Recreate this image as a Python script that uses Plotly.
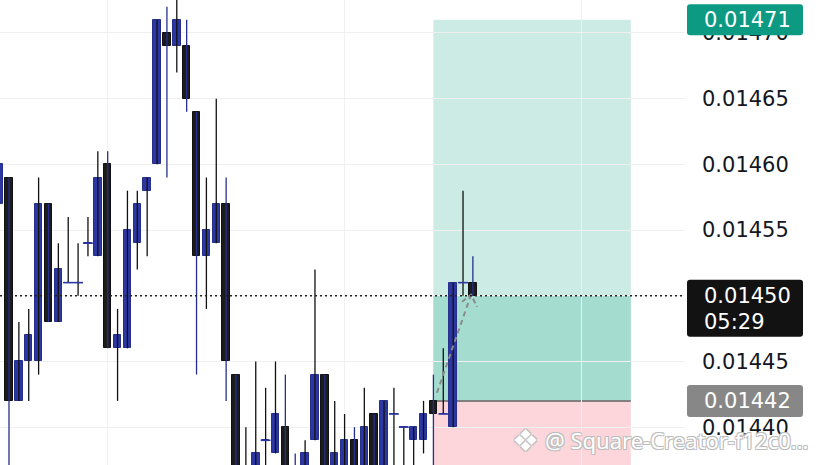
import plotly.graph_objects as go
import numpy as np

# candle index (x) and OHLC values
idx = list(range(-1, 48))
opens = [0.01457, 0.01459, 0.01442, 0.01445, 0.01445, 0.01457, 0.01448, 0.01451, 0.01451, 0.01454,
         0.01453, 0.01460, 0.01446, 0.01446, 0.01454, 0.01458, 0.01460, 0.01470, 0.01469, 0.01469,
         0.01464, 0.01453, 0.01454, 0.01457, 0.01444, 0.01434, 0.01436, 0.01439, 0.01438, 0.01440,
         0.01436, 0.01436, 0.01439, 0.01444, 0.01436, 0.01436, 0.01439, 0.01436, 0.01441, 0.01436,
         0.01441, 0.01440, 0.01439, 0.01439, 0.01442, 0.01441, 0.01440, 0.01451, 0.01451]
highs = [0.01460, 0.01459, 0.01448, 0.01449, 0.01459, 0.01457, 0.01454, 0.01456, 0.01454, 0.01456,
         0.01461, 0.01461, 0.01449, 0.01458, 0.01458, 0.01459, 0.01471, 0.01472, 0.01474, 0.01471,
         0.01464, 0.01459, 0.01465, 0.01459, 0.01444, 0.01440, 0.01445, 0.01443, 0.01445, 0.01444,
         0.01438, 0.01439, 0.01452, 0.01444, 0.01442, 0.01441, 0.01440, 0.01443, 0.01441, 0.01442,
         0.01443, 0.01440, 0.01440, 0.01442, 0.01444, 0.01446, 0.01451, 0.01458, 0.01453]
lows = [0.01457, 0.01437, 0.01442, 0.01442, 0.01444, 0.01448, 0.01448, 0.01451, 0.01450, 0.01453,
        0.01453, 0.01446, 0.01442, 0.01446, 0.01452, 0.01453, 0.01460, 0.01459, 0.01467, 0.01464,
        0.01444, 0.01449, 0.01454, 0.01442, 0.01435, 0.01433, 0.01435, 0.01436, 0.01438, 0.01435,
        0.01434, 0.01435, 0.01439, 0.01435, 0.01435, 0.01435, 0.01435, 0.01435, 0.01435, 0.01435,
        0.01435, 0.01435, 0.01435, 0.01438, 0.01436, 0.01441, 0.01440, 0.01450, 0.01450]
closes = [0.01460, 0.01442, 0.01445, 0.01447, 0.01457, 0.01448, 0.01452, 0.01451, 0.01451, 0.01454,
          0.01459, 0.01446, 0.01447, 0.01455, 0.01457, 0.01459, 0.01471, 0.01469, 0.01471, 0.01465,
          0.01453, 0.01455, 0.01457, 0.01445, 0.01436, 0.01436, 0.01438, 0.01439, 0.01441, 0.01436,
          0.01435, 0.01438, 0.01444, 0.01436, 0.01438, 0.01439, 0.01436, 0.01440, 0.01436, 0.01442,
          0.01441, 0.01440, 0.01440, 0.01441, 0.01441, 0.01441, 0.01451, 0.01451, 0.01450]

# long position tool
pos_start, pos_end = 43, 63
entry_price = 0.01442
target_price = 0.01471
stop_price = 0.01430
last_price = 0.01450
countdown = "05:29"

# trend arrow drawn on the chart
arrow_x = [43.36, 46.81]
arrow_y = [0.0144262, 0.0145008]
head_x = [45.90, 46.81, 47.42]
head_y = [0.0144954, 0.0145008, 0.0144916]

BLUE = "#2c37a3"
BLACK = "#1c1c1c"
NAVY = "#262f8c"
FONT = "DejaVu Sans"
PLOT_W = 685

o = np.array(opens)
c = np.array(closes)
h = np.array(highs)
l = np.array(lows)
up = c >= o

fig = go.Figure()

# wicks: up candles get black wicks, down candles navy wicks
for mask, col in [(up, "#111111"), (~up, NAVY)]:
    wx, wy = [], []
    for i, x in enumerate(idx):
        if mask[i]:
            wx += [x, x, None]
            wy += [l[i], h[i], None]
    fig.add_trace(go.Scatter(x=wx, y=wy, mode="lines", line=dict(color=col, width=1.3),
                             hoverinfo="skip"))

# bodies
fig.add_trace(go.Bar(
    x=idx, y=np.abs(c - o), base=np.minimum(o, c), width=0.76,
    marker=dict(color=[BLUE if u else BLACK for u in up],
                line=dict(color=[NAVY if u else "#111111" for u in up], width=1)),
    hoverinfo="skip"))

# doji ticks
doji = o == c
fig.add_trace(go.Scatter(
    x=[x for i, x in enumerate(idx) if doji[i]], y=c[doji], mode="markers",
    marker=dict(symbol="line-ew", size=7, line=dict(color=BLUE, width=1.6)),
    hoverinfo="skip"))

# dashed arrow
fig.add_trace(go.Scatter(x=arrow_x, y=arrow_y, mode="lines",
                         line=dict(color="#8a8a8a", width=2, dash="5px,4px"), hoverinfo="skip"))
fig.add_trace(go.Scatter(x=head_x, y=head_y, mode="lines",
                         line=dict(color="#8a8a8a", width=2, dash="5px,3px"), hoverinfo="skip"))

# position boxes
fig.add_shape(type="rect", x0=pos_start, x1=pos_end, y0=entry_price, y1=target_price,
              fillcolor="#cdebe5", line_width=0, layer="below")
fig.add_shape(type="rect", x0=pos_start, x1=pos_end, y0=entry_price, y1=last_price,
              fillcolor="#a5dcd0", line_width=0, layer="below")
fig.add_shape(type="rect", x0=pos_start, x1=pos_end, y0=stop_price, y1=entry_price,
              fillcolor="#fcd6da", line_width=0, layer="below")
fig.add_shape(type="line", x0=pos_start, x1=pos_end, y0=entry_price, y1=entry_price,
              line=dict(color="#808080", width=2), layer="below")

# last price dotted line
fig.add_shape(type="line", xref="paper", x0=0, x1=1, y0=last_price, y1=last_price,
              line=dict(color="#222222", width=1.5, dash="2px,3px"))


def rounded(x0, w, y0, hgt, r=3):
    # rounded rectangle path in pixels relative to the anchor
    x1, y1 = x0 + w, y0 + hgt
    return (f"M {x0 + r},{y0} L {x1 - r},{y0} Q {x1},{y0} {x1},{y0 + r} L {x1},{y1 - r} "
            f"Q {x1},{y1} {x1 - r},{y1} L {x0 + r},{y1} Q {x0},{y1} {x0},{y1 - r} "
            f"L {x0},{y0 + r} Q {x0},{y0} {x0 + r},{y0} Z")


# price labels on the scale (bottom offset, height in px)
for price, bottom, hgt, col in [(target_price, -15.5, 31, "#0c9a83"),
                                (last_price, -41, 57, "#121212"),
                                (entry_price, -16, 32, "#878787")]:
    fig.add_shape(type="path", xref="paper", yref="y", xsizemode="pixel", ysizemode="pixel",
                  xanchor=1.0, yanchor=price, path=rounded(2, 116, bottom, hgt),
                  fillcolor=col, line_width=0, layer="above")

label_x = 702 / PLOT_W
for price, txt, shift in [(target_price, f"{target_price:.5f}", 0),
                          (last_price, f"{last_price:.5f}", 0),
                          (last_price, countdown, -26),
                          (entry_price, f"{entry_price:.5f}", 0)]:
    fig.add_annotation(xref="paper", yref="y", x=label_x, y=price, yshift=shift, text=txt,
                       showarrow=False, xanchor="left", yanchor="middle",
                       font=dict(family=FONT, size=21, color="#ffffff"))

# watermark
outline = "-1px -1px 0 #bdbdbd, 1px -1px 0 #bdbdbd, -1px 1px 0 #bdbdbd, 1px 1px 0 #bdbdbd"
fig.add_annotation(xref="paper", yref="paper", x=510 / PLOT_W, y=1 - 440 / 465,
                   text="❖", showarrow=False, xanchor="left", yanchor="middle",
                   font=dict(family="DejaVu Sans", size=30, color="#ffffff", shadow=outline))
fig.add_annotation(xref="paper", yref="paper", x=543 / PLOT_W, y=1 - 440 / 465,
                   text="@ Square-Creator-f12c0...", showarrow=False,
                   xanchor="left", yanchor="middle",
                   font=dict(family="Noto Sans", size=22, color="#ffffff", shadow=outline))

fig.update_layout(
    width=828, height=465,
    margin=dict(l=0, r=828 - PLOT_W, t=0, b=0),
    paper_bgcolor="#ffffff", plot_bgcolor="#ffffff",
    bargap=0, showlegend=False, hovermode=False,
    xaxis=dict(range=[-0.912, 68.49], showticklabels=False, tick0=10, dtick=24,
               showgrid=True, gridcolor="#f0f0f0", zeroline=False, showline=False, fixedrange=True),
    yaxis=dict(side="right", range=[0.0143712, 0.0147251], tick0=0.0144, dtick=0.00005,
               tickformat=".5f", showgrid=True, gridcolor="#f0f0f0", zeroline=False,
               showline=False, ticks="", ticklabelstandoff=16, fixedrange=True,
               tickfont=dict(family=FONT, size=21, color="#131722")),
)

fig.write_html("out.html", config={"displayModeBar": False},
               post_script="document.body.style.margin='0';")
